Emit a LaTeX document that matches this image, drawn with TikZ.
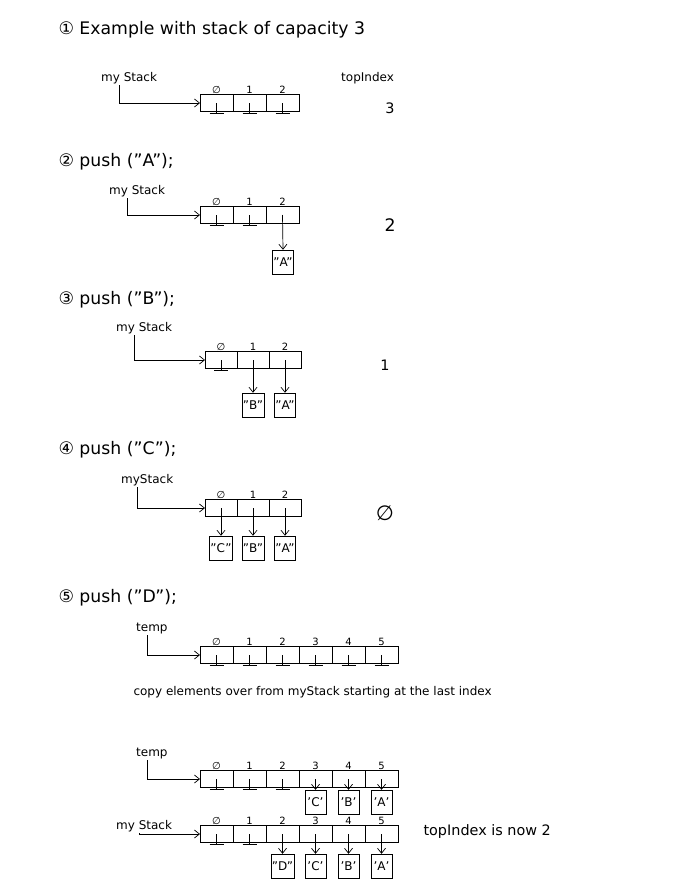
\documentclass[tikz,border=0pt]{standalone}
\usepackage{fontspec}
\setmainfont{DejaVu Sans}
\usetikzlibrary{arrows.meta}
\begin{document}
\begin{tikzpicture}[x=1pt,y=-1pt,font=\Large,
  cell/.style={draw,minimum width=#1,minimum height=17pt,inner sep=0pt,outer sep=0pt},
  cell/.default=33pt,
  elem/.style={draw,minimum width=21pt,minimum height=24pt,inner sep=1pt,font=\large},
  idx/.style={font=\normalsize,anchor=south,inner sep=1pt},
  lbl/.style={font=\large,anchor=south west,inner sep=1pt},
  ptr/.style={-{Straight Barb[length=5pt,width=8pt]},line width=0.7pt},
  gnd/.pic={\draw[line width=0.7pt] (0,0)--(0,10) (-7,10)--(7,10);},
  title/.style={anchor=west,font=\LARGE}]
\useasboundingbox (0,0) rectangle (684,886);
\newcommand\arrrow[6]{% prefix, last index, x0, y, width, idx labels
  \foreach \i [count=\k from 0] in {#6} {
    \node[cell=#5] (#1\k) at ({#3+#5*\k+#5/2},#4) {};
    \node[idx] at (#1\k.north) {\i};
  }}
% 1
\node[title] (t1) at (55,30) {① Example with stack of capacity 3};
\node[lbl] (l1) at (100,85) {my Stack};
\arrrow{a}{2}{200}{103}{33}{∅,1,2}
\draw[ptr] ([xshift=-10pt]l1.south) |- (a0.west);
\foreach \k in {0,1,2} \pic at (a\k.center) {gnd};
\node[lbl] (ti) at (340,85) {topIndex};
\node (v1) at (390,108) {3};
% 2
\node[title] (t2) at (55,162) {② push ("A");};
\node[lbl] (l2) at (108,198) {my Stack};
\arrrow{b}{2}{200}{215}{33}{∅,1,2}
\draw[ptr] ([xshift=-10pt]l2.south) |- (b0.west);
\foreach \k in {0,1} \pic at (b\k.center) {gnd};
\node[elem] (bA) at (283,262) {"A"};
\draw[ptr] (b2.center) -- (bA.north);
\node[font=\LARGE] (v2) at (390,225) {2};
% 3
\node[title] (t3) at (55,300) {③ push ("B");};
\node[lbl] (l3) at (115,335) {my Stack};
\arrrow{c}{2}{205}{360}{32}{∅,1,2}
\draw[ptr] ([xshift=-10pt]l3.south) |- (c0.west);
\pic at (c0.center) {gnd};
\node[elem] (cB) at (253,405) {"B"};
\node[elem] (cA) at (285,405) {"A"};
\draw[ptr] (c1.center) -- (cB.north);
\draw[ptr] (c2.center) -- (cA.north);
\node (v3) at (385,365) {1};
% 4
\node[title] (t4) at (55,450) {④ push ("C");};
\node[lbl] (l4) at (120,487) {myStack};
\arrrow{d}{2}{205}{508}{32}{∅,1,2}
\draw[ptr] ([xshift=-10pt]l4.south) |- (d0.west);
\node[elem] (dC) at (221,548) {"C"};
\node[elem] (dB) at (253,548) {"B"};
\node[elem] (dA) at (285,548) {"A"};
\draw[ptr] (d0.center) -- (dC.north);
\draw[ptr] (d1.center) -- (dB.north);
\draw[ptr] (d2.center) -- (dA.north);
\node[font=\huge] (v4) at (385,513) {∅};
% 5
\node[title] (t5) at (55,598) {⑤ push ("D");};
\node[lbl] (l5) at (135,635) {temp};
\arrrow{e}{5}{200}{655}{33}{∅,1,2,3,4,5}
\draw[ptr] ([xshift=-5pt]l5.south) |- (e0.west);
\foreach \k in {0,...,5} \pic at (e\k.center) {gnd};
\node[anchor=west,font=\large] (cp) at (130,692) {copy elements over from myStack starting at the last index};
\node[lbl] (l6) at (135,760) {temp};
\arrrow{f}{5}{200}{779}{33}{∅,1,2,3,4,5}
\draw[ptr] ([xshift=-5pt]l6.south) |- (f0.west);
\foreach \k in {0,1,2} \pic at (f\k.center) {gnd};
\node[elem] (fC) at (315.5,802) {'C'};
\node[elem] (fB) at (348.5,802) {'B'};
\node[elem] (fA) at (381.5,802) {'A'};
\draw[ptr] (f3.center) -- (fC.north);
\draw[ptr] (f4.center) -- (fB.north);
\draw[ptr] (f5.center) -- (fA.north);
\node[lbl] (l7) at (115,833) {my Stack};
\arrrow{g}{5}{200}{834}{33}{∅,1,2,3,4,5}
\draw[ptr] ([xshift=-5pt]l7.south) |- (g0.west);
\foreach \k in {0,1} \pic at (g\k.center) {gnd};
\node[elem] (gD) at (282.5,866) {"D"};
\node[elem] (gC) at (315.5,866) {'C'};
\node[elem] (gB) at (348.5,866) {'B'};
\node[elem] (gA) at (381.5,866) {'A'};
\draw[ptr] (g2.center) -- (gD.north);
\draw[ptr] (g3.center) -- (gC.north);
\draw[ptr] (g4.center) -- (gB.north);
\draw[ptr] (g5.center) -- (gA.north);
\node[anchor=west] (tn) at (420,832) {topIndex is now 2};
\end{tikzpicture}
\end{document}
